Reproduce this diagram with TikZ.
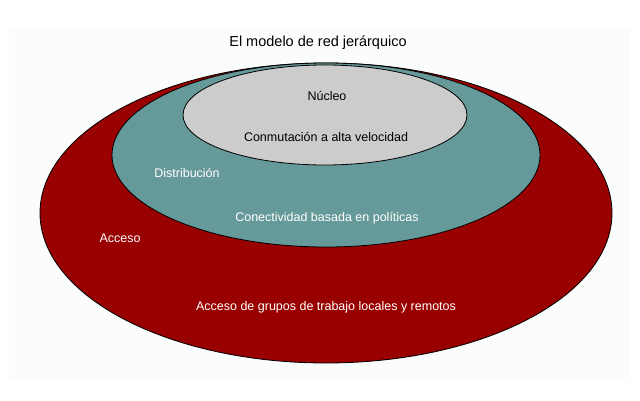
\documentclass[tikz,border=0pt]{standalone}
\usepackage{fontspec}
\setmainfont{Liberation Sans}
\usepackage{tikz}
\definecolor{acceso}{HTML}{990000}
\definecolor{distrib}{HTML}{669999}
\definecolor{nucleo}{HTML}{CCCCCC}
\definecolor{fondo}{HTML}{FBFDFD}

\begin{document}
\begin{tikzpicture}
			[x=1pt,y=1pt,
			capa/.style={draw=black,line width=0.8pt},
			blanco/.style={text=white,font=\fontsize{12.5}{15}\selectfont},
			negro/.style={text=black,font=\fontsize{12.5}{15}\selectfont}]
			\useasboundingbox (0,0) rectangle (640,400);
			\fill[fondo] (9,18) rectangle (630,371);
			\draw[capa,fill=acceso] (326,187) ellipse [x radius=286,y radius=150];
			\draw[capa,fill=distrib] (326,245) ellipse [x radius=214,y radius=92];
			\draw[capa,fill=nucleo] (325,285) ellipse [x radius=142,y radius=50];
			\node[negro,font=\fontsize{14.5}{17}\selectfont] (titulo) at (318,357) {El modelo de red jerárquico};
			\node[negro] (nucleo) at (327,304) {Núcleo};
			\node[negro] (conmutacion) at (326,263) {Conmutación a alta velocidad};
			\node[blanco] (distribucion) at (187,227) {Distribución};
			\node[blanco] (conectividad) at (327,182) {Conectividad basada en políticas};
			\node[blanco] (acceso) at (120,162) {Acceso};
			\node[blanco] (grupos) at (326,93) {Acceso de grupos de trabajo locales y remotos};
\end{tikzpicture}
\end{document}
